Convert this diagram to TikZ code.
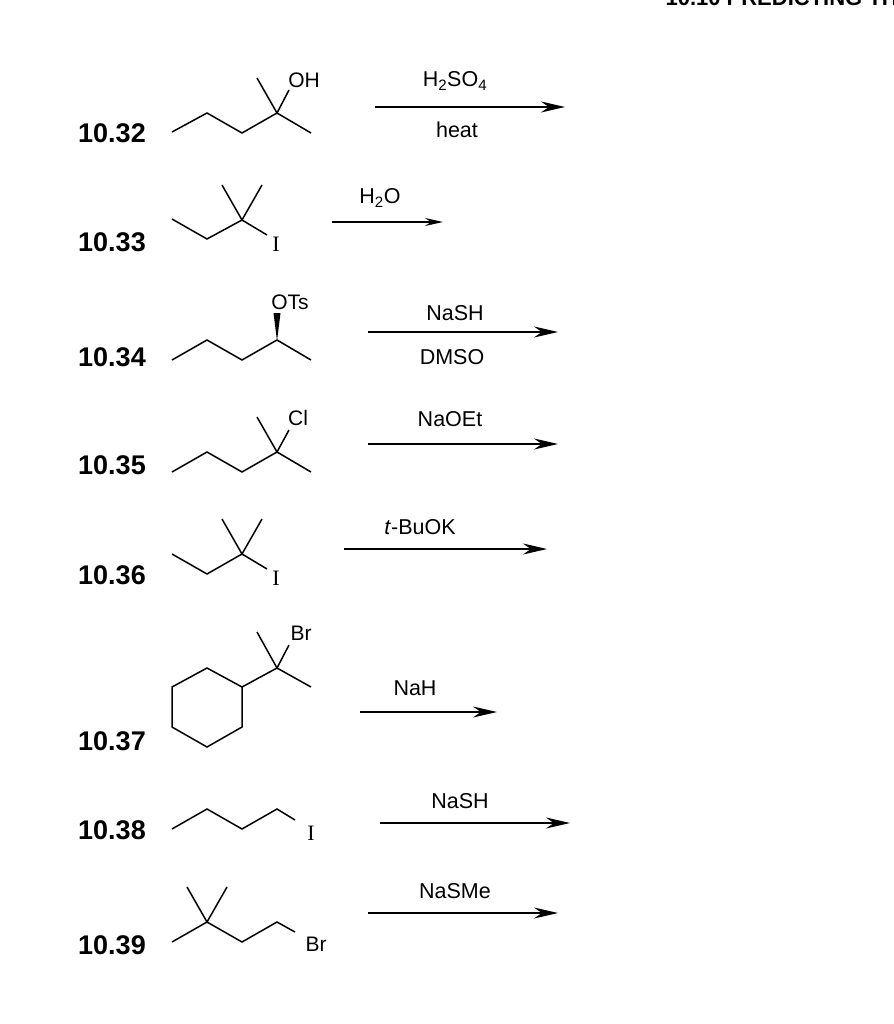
\documentclass[tikz,border=0pt]{standalone}
\usepackage{fontspec}
\setmainfont{Liberation Sans}
\newfontfamily\serifI{Liberation Serif}
\usetikzlibrary{arrows.meta}
\begin{document}
\begin{tikzpicture}[x=1pt,y=-1pt,
  bond/.style={line width=1.5pt,line join=miter},
  rx/.style={line width=1.7pt,-{Stealth[length=24pt,width=11pt]}},
  rxs/.style={line width=1.7pt,-{Stealth[length=18pt,width=8pt]}},
  lab/.style={font=\fontsize{27}{30}\selectfont\bfseries},
  reag/.style={font=\fontsize{21.5}{24}\selectfont},
  atom/.style={font=\fontsize{21}{24}\selectfont,inner sep=0pt},
  iatom/.style={font=\fontsize{22}{24}\selectfont\serifI,inner sep=0pt}]
\useasboundingbox (0,0) rectangle (893,1024);
\begin{scope}
\clip (0,0) rectangle (893,7);
\node[anchor=base west,font=\fontsize{22}{24}\selectfont\bfseries] (hdr) at (662,6) {10.10 PREDICTING THE PRODUCTS};
\end{scope}
% labels
\node[lab] (l32) at (112,133) {10.32};
\node[lab] (l33) at (112,242) {10.33};
\node[lab] (l34) at (112,357) {10.34};
\node[lab] (l35) at (112,465) {10.35};
\node[lab] (l36) at (112,575) {10.36};
\node[lab] (l37) at (112,741) {10.37};
\node[lab] (l38) at (112,830) {10.38};
\node[lab] (l39) at (112,945) {10.39};
% 10.32
\draw[bond] (172,132)--(207,113)--(242,133)--(277,113)--(311,133);
\draw[bond] (257,78)--(277,113)--(289,90);
\node[atom] (oh) at (304,80) {OH};
\coordinate (a1) at (375,107); \coordinate (b1) at (565,107);
\draw[rx] (a1)--(b1);
\node[reag] (r1a) at (455,81) {H\textsubscript{2}SO\textsubscript{4}};
\node[reag] (r1b) at (457,130) {heat};
% 10.33
\draw[bond] (172,219)--(207,239)--(242,220)--(267,235);
\draw[bond] (222,185)--(242,220)--(262,185);
\node[iatom] (i33) at (276,244) {I};
\coordinate (a2) at (332,222); \coordinate (b2) at (443,222);
\draw[rxs] (a2)--(b2);
\node[reag] (r2) at (380,198) {H\textsubscript{2}O};
% 10.34
\draw[bond] (172,360)--(207,340)--(242,360)--(277,340)--(311,360);
\fill (277,341)--(273.5,313)--(280.5,313)--cycle;
\node[atom] (ots) at (290,302) {OTs};
\coordinate (a3) at (368,332); \coordinate (b3) at (558,332);
\draw[rx] (a3)--(b3);
\node[reag] (r3a) at (455,313) {NaSH};
\node[reag] (r3b) at (452,357) {DMSO};
% 10.35
\draw[bond] (172,472)--(207,452)--(242,472)--(277,452)--(311,472);
\draw[bond] (257,417)--(277,452)--(289,430);
\node[atom] (cl) at (298,418) {Cl};
\coordinate (a4) at (368,444); \coordinate (b4) at (558,444);
\draw[rx] (a4)--(b4);
\node[reag] (r4) at (450,419) {NaOEt};
% 10.36
\draw[bond] (172,554)--(207,574)--(242,554)--(267,569);
\draw[bond] (222,519)--(242,554)--(262,519);
\node[iatom] (i36) at (276,578) {I};
\coordinate (a5) at (344,549); \coordinate (b5) at (547,549);
\draw[rx] (a5)--(b5);
\node[reag] (r5) at (420,527) {\textit{t}-BuOK};
% 10.37
\draw[bond] (172,687)--(207,668)--(242,687)--(242,727)--(207,747)--(172,727)--cycle;
\draw[bond] (242,687)--(277,668)--(311,687);
\draw[bond] (257,632)--(277,668)--(289,645);
\node[atom] (br37) at (301,633) {Br};
\coordinate (a6) at (360,712); \coordinate (b6) at (497,712);
\draw[rx] (a6)--(b6);
\node[reag] (r6) at (415,688) {NaH};
% 10.38
\draw[bond] (172,829)--(207,809)--(242,829)--(277,809)--(295,820);
\node[iatom] (i38) at (311,833) {I};
\coordinate (a7) at (380,823); \coordinate (b7) at (570,823);
\draw[rx] (a7)--(b7);
\node[reag] (r7) at (460,801) {NaSH};
% 10.39
\draw[bond] (172,942)--(207,922)--(242,942)--(277,922)--(295,932);
\draw[bond] (187,887)--(207,922)--(227,887);
\node[atom] (br39) at (316,944) {Br};
\coordinate (a8) at (368,913); \coordinate (b8) at (558,913);
\draw[rx] (a8)--(b8);
\node[reag] (r8) at (455,891) {NaSMe};
\end{tikzpicture}
\end{document}
